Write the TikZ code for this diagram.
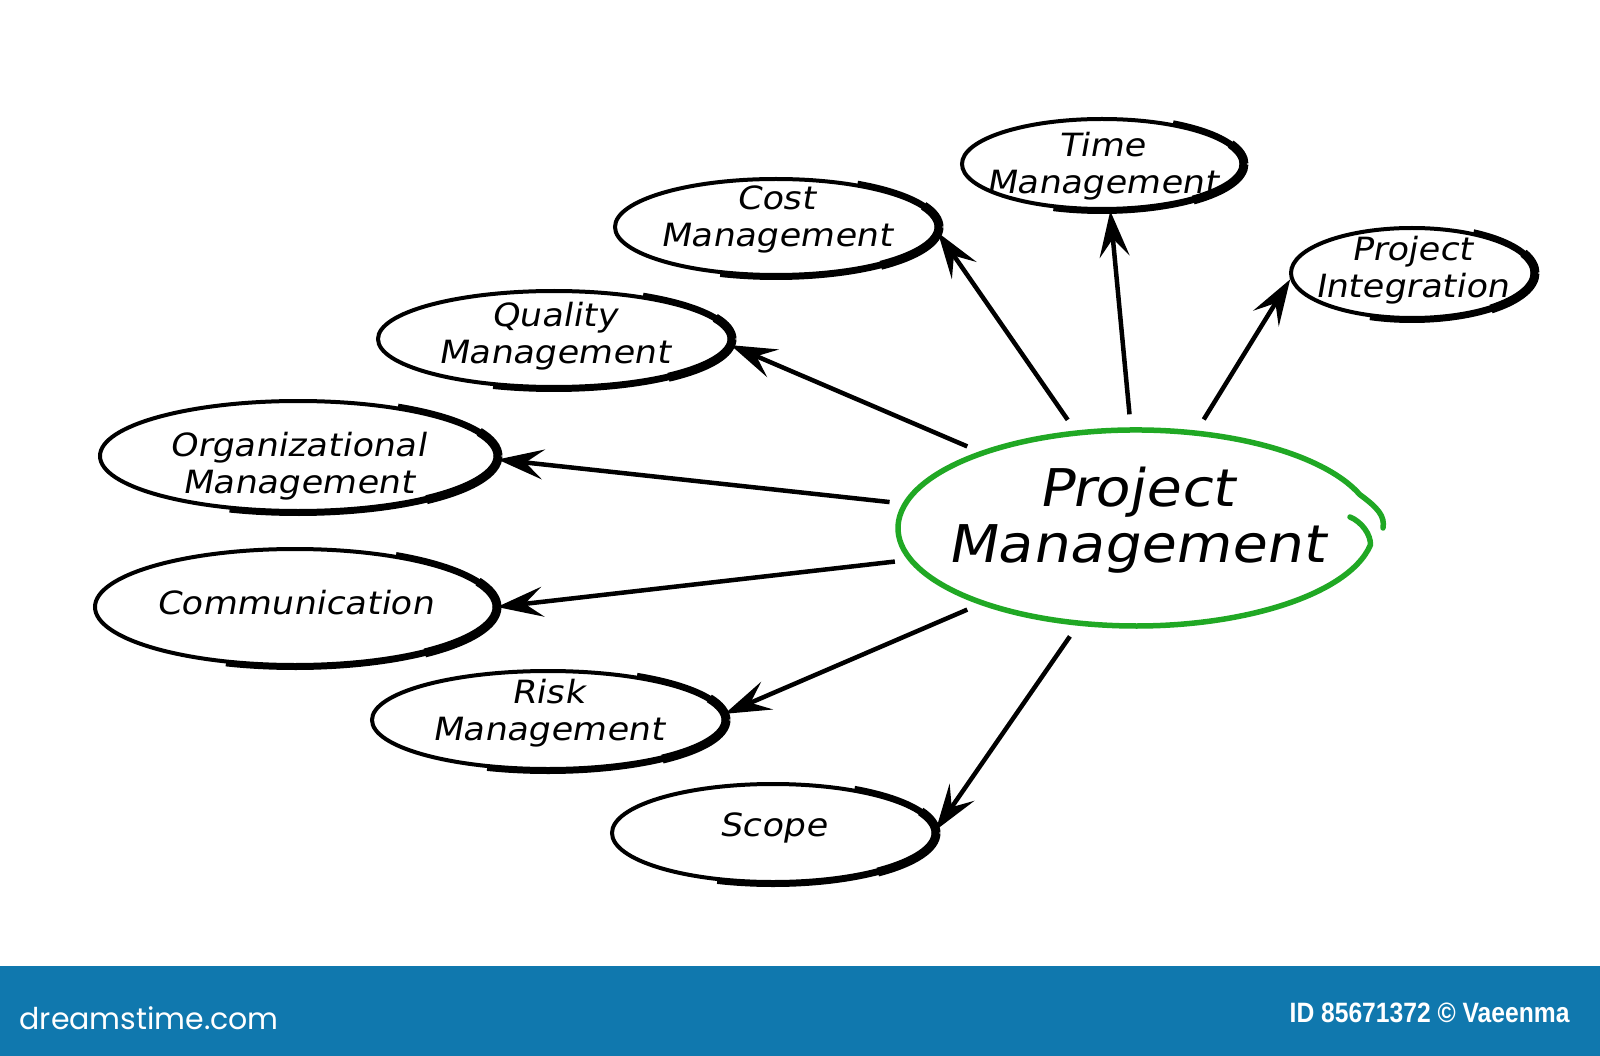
\documentclass[tikz,border=0pt]{standalone}
\usepackage{fontspec}
\usetikzlibrary{shapes.geometric}
\usetikzlibrary{arrows.meta}
\newfontfamily\handfont[FakeSlant=0.18,FakeStretch=1.1]{DejaVu Sans}
\newfontfamily\logofont{Poppins}
\newfontfamily\barfont[FakeStretch=0.88]{Liberation Sans}
\definecolor{pmgreen}{RGB}{32,168,36}
\definecolor{barblue}{RGB}{16,120,174}

\begin{document}
\begin{tikzpicture}[x=1pt,y=-1pt,
  topic/.style={ellipse,draw,line width=4pt,inner sep=0pt},
  txt/.style={align=center,font=\handfont\fontsize{32}{37}\selectfont},
  pmtxt/.style={align=center,font=\handfont\fontsize{52}{56}\selectfont},
  pmline/.style={draw=pmgreen,line width=5.5pt},
  link/.style={line width=4.5pt,-{Stealth[length=46pt,width=30pt,inset=18pt]},shorten <=13pt}]
\useasboundingbox (0,0) rectangle (1600,1056);
\fill[white] (0,0) rectangle (1600,966);
\fill[barblue] (0,966) rectangle (1600,1056);

% centre
\node[ellipse,line width=5.5pt,inner sep=0pt,minimum width=476pt,minimum height=196pt,
  label={[pmtxt,yshift=8pt]center:Project\\Management}] (pm) at (1136,528) {};
\draw[pmline,line cap=round] (1350,517) .. controls (1362,522) and (1371,535) .. (1370.4,545)
  arc[start angle=10,end angle=340,x radius=238,y radius=98]
  .. controls (1378,508) and (1385,516) .. (1383,528);

% topics
\node[topic,minimum width=280pt,minimum height=90pt,label={[txt,yshift=-2pt]center:Time\\Management}] (time) at (1102,164) {};
\node[topic,minimum width=322pt,minimum height=96pt,label={[txt,yshift=8pt]center:Cost\\Management}] (cost) at (776,227) {};
\node[topic,minimum width=242pt,minimum height=90pt,label={[txt,yshift=3pt]center:Project\\Integration}] (integ) at (1412,273) {};
\node[topic,minimum width=352pt,minimum height=96pt,label={[txt,yshift=3pt]center:Quality\\Management}] (quality) at (554,339) {};
\node[topic,minimum width=396pt,minimum height=110pt,label={[txt,yshift=-10pt]center:Organizational\\Management}] (org) at (298,456) {};
\node[topic,minimum width=400pt,minimum height=116pt,label={[txt,yshift=4pt]center:Communication}] (comm) at (295,607) {};
\node[topic,minimum width=352pt,minimum height=98pt,label={[txt,yshift=7pt]center:Risk\\Management}] (risk) at (548,720) {};
\node[topic,minimum width=322pt,minimum height=98pt,label={[txt,yshift=5pt]center:Scope}] (scope) at (773,833) {};

\foreach \nm/\rx/\ry in {time/142/47,cost/163/50,integ/123/47,quality/178/50,
    org/200/57,comm/202/60,risk/178/51,scope/163/51}{
  \draw[line width=6pt] (\nm.east) arc[start angle=0,end angle=110,x radius=\rx,y radius=\ry];
  \draw[line width=6pt] (\nm.east) arc[start angle=0,end angle=-60,x radius=\rx,y radius=\ry];
  \draw[line width=9pt] (\nm.east) arc[start angle=0,end angle=50,x radius=\rx,y radius=\ry];
  \draw[line width=9pt] (\nm.east) arc[start angle=0,end angle=-25,x radius=\rx,y radius=\ry];
}

\foreach \from/\to/\dest in {122/-2/cost,93/-80/time,58/183/integ,154/-2/quality,
    174/-1/org,188/0/comm,206/2/risk,239/1/scope}
  \draw[link] (pm.\from) -- (\dest.\to);

% bar
\node[anchor=west,text=white,font=\logofont\fontsize{30}{30}\selectfont] (site) at (16,1018) {dreamstime.com};
\node[anchor=east,text=white,font=\barfont\bfseries\fontsize{28}{28}\selectfont] (idtag) at (1573,1013) {ID 85671372 © Vaeenma};
\end{tikzpicture}
\end{document}
